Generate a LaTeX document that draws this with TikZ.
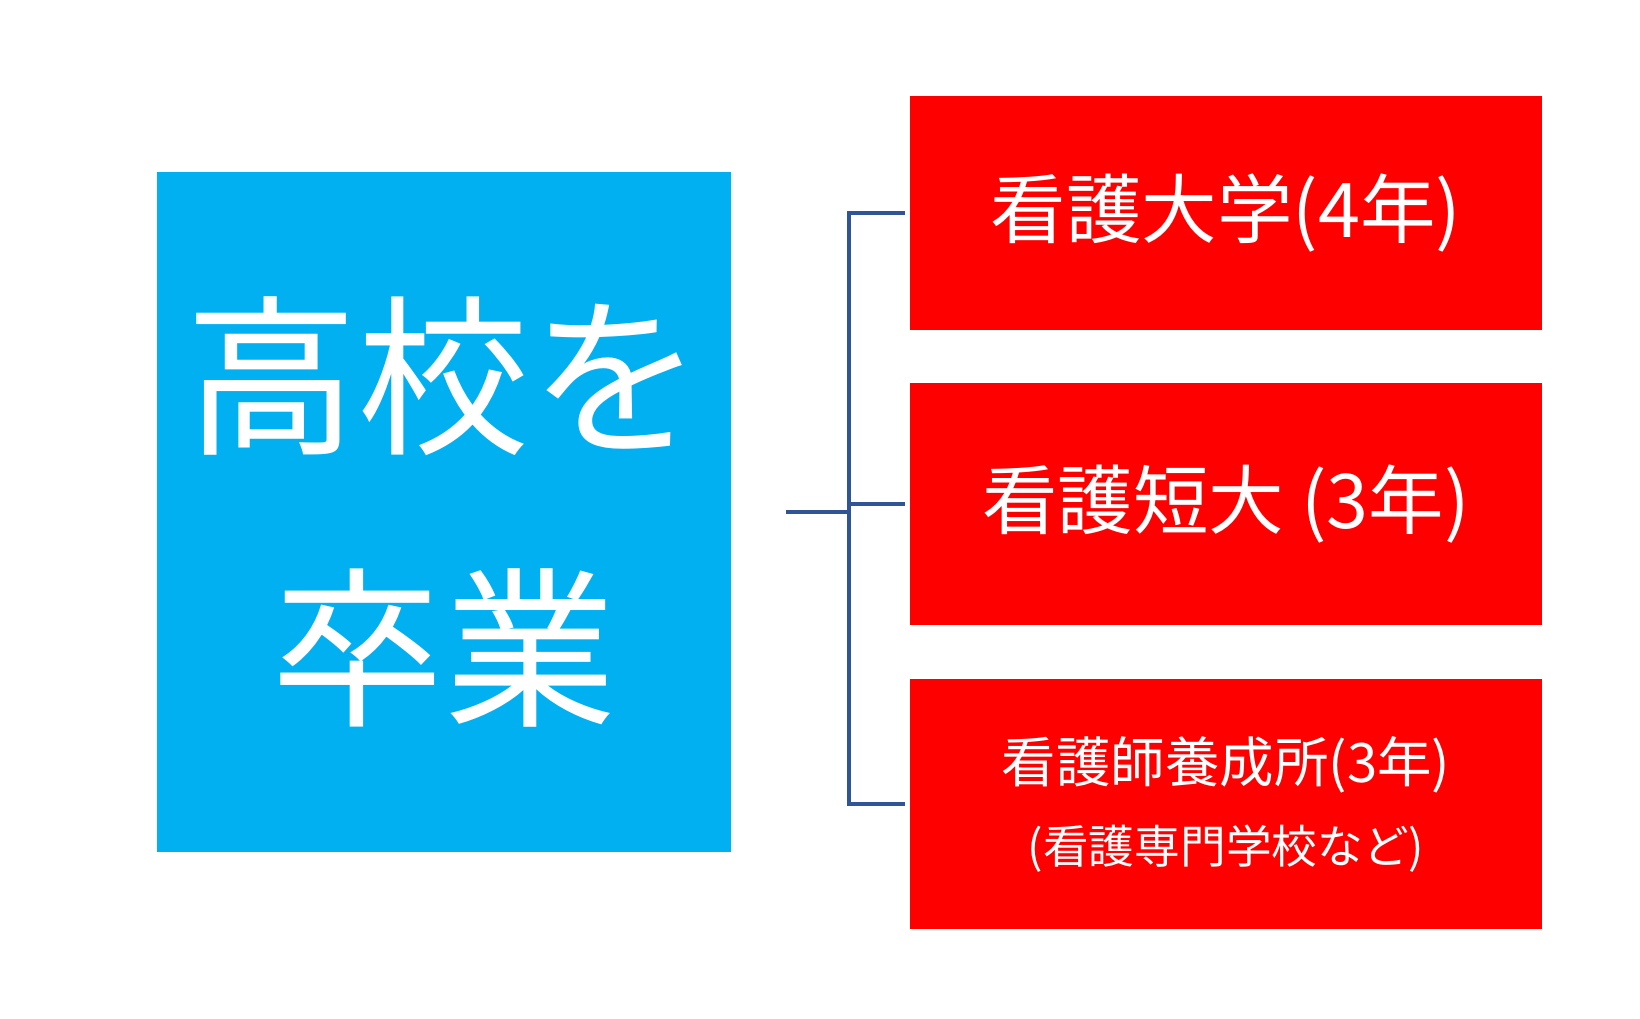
\documentclass[tikz,border=0pt]{standalone}
\usepackage{fontspec}
\setmainfont{Noto Sans CJK JP}
\usetikzlibrary{positioning, calc}
\definecolor{skyblue}{HTML}{00B0F0}
\definecolor{linkblue}{HTML}{2F5597}

\begin{document}
\begin{tikzpicture}[x=0.02cm, y=-0.02cm]
\tikzset{
  course/.style={draw=none, fill=red, text=white, minimum width=12.64cm, align=center},
  link/.style={draw=linkblue, line width=2.4pt}
}
\useasboundingbox (0,0) rectangle (1640,1018);
% Starting point
\node[fill=skyblue, text=white, minimum width=11.48cm, minimum height=13.6cm,
      font=\fontsize{98}{155}\selectfont, align=center] (grad) at (444,512) {高校を\\卒業};

% Courses
\node[course, minimum height=4.68cm, font=\fontsize{43}{50}\selectfont] (univ) at (1226,213) {看護大学(4年)};
\node[course, minimum height=4.84cm, font=\fontsize{43}{50}\selectfont] (coll) at (1226,504) {看護短大 (3年)};
\node[course, minimum height=5.0cm, align=center] (school) at (1226,804)
  {{\fontsize{31}{40}\selectfont 看護師養成所(3年)}\\[0.6cm]{\fontsize{26}{32}\selectfont (看護専門学校など)}};

% Branches
\coordinate (from) at (786,512);
\coordinate (fork) at (850,512);
\draw[link] (from) -- (fork);
\draw[link] ([xshift=-0.1cm]univ.west) -- ++(-56,0) |- ([xshift=-0.1cm]school.west);
\draw[link] (fork |- coll.west) -- ([xshift=-0.1cm]coll.west);
\end{tikzpicture}
\end{document}
